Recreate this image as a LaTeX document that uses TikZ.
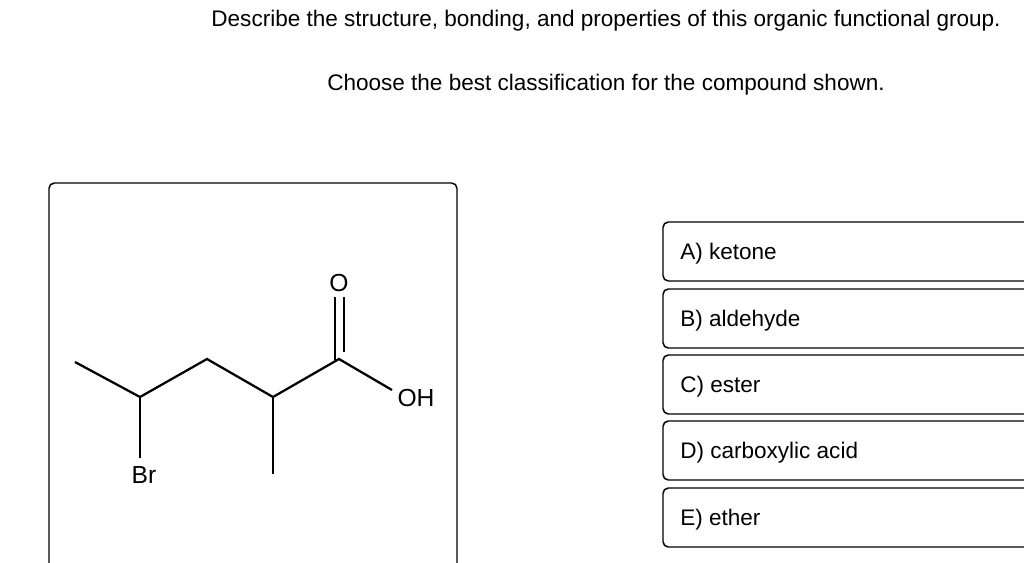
\documentclass[tikz,border=0pt]{standalone}
\usepackage{fontspec}
\setmainfont{Liberation Sans}
\begin{document}
\begin{tikzpicture}[x=0.75pt,y=-0.75pt,
  bond/.style={line width=1.7pt},
  opt/.style={draw,rounded corners=4pt,line width=1.1pt},
  lbl/.style={font=\fontsize{16.9}{20}\selectfont,inner sep=0pt},
  atom/.style={font=\fontsize{18.5}{20}\selectfont,inner sep=1pt}]
\useasboundingbox (0,0) rectangle (1024,562);
\node[lbl] (q1) at (606,21) {Describe the structure, bonding, and properties of this organic functional group.};
\node[lbl] (q2) at (606,85) {Choose the best classification for the compound shown.};
\draw[opt] (49,570) -- (49,183) -- (457,183) -- (457,570);
\coordinate (a1) at (75,362);
\coordinate (a2) at (140,397);
\coordinate (a3) at (207,359);
\coordinate (a4) at (273,397);
\coordinate (a5) at (339,359);
\coordinate (a6) at (273,474);
\coordinate (a7) at (392,390);
\node[atom] (br) at (144,475) {Br};
\node[atom] (oh) at (416,398) {OH};
\node[atom] (o) at (339,283) {O};
\draw[bond] (a1) -- (a2) -- (a3) -- (a4) -- (a5) -- (a7);
\draw[bond] (a4) -- (a6);
\draw[bond] (a2) -- (140,458);
\draw[bond] (335,360) -- (335,297);
\draw[bond] (344,352) -- (344,297);
\foreach \y/\t in {222/A) ketone,289/B) aldehyde,355/C) ester,421/D) carboxylic acid,488/E) ether}{
  \draw[opt] (1030,\y) -- (663,\y) -- (663,\y+59) -- (1030,\y+59);
  \node[lbl,anchor=west] at (680,\y+32) {\t};
}
\end{tikzpicture}
\end{document}
